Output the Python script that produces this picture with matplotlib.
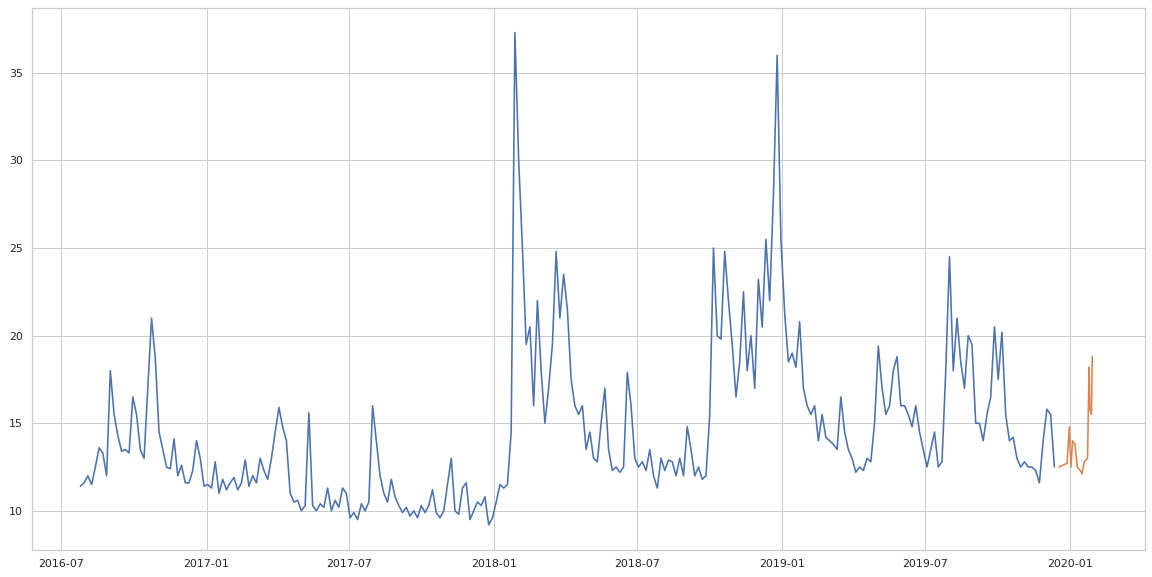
import matplotlib
matplotlib.use("Agg")
import matplotlib.pyplot as plt
import seaborn as sns
import pandas as pd
import numpy as np

sns.set_theme(style="whitegrid")

blue_start = "2016-07-25"
blue_values = [
    11.4, 11.6, 12.0, 11.5, 12.5, 13.6, 13.3, 12.0, 18.0, 15.5,
    14.3, 13.4, 13.5, 13.3, 16.5, 15.5, 13.5, 13.0, 17.0, 21.0,
    18.7, 14.5, 13.5, 12.5, 12.4, 14.1, 12.0, 12.6, 11.6, 11.6,
    12.3, 14.0, 13.0, 11.4, 11.5, 11.3, 12.8, 11.0, 11.8, 11.2,
    11.6, 11.9, 11.2, 11.6, 12.9, 11.4, 12.0, 11.6, 13.0, 12.3,
    11.8, 13.0, 14.5, 15.9, 14.8, 14.0, 11.0, 10.5, 10.6, 10.0,
    10.3, 15.6, 10.3, 10.0, 10.4, 10.2, 11.3, 10.0, 10.6, 10.2,
    11.3, 11.0, 9.6, 9.9, 9.5, 10.4, 10.0, 10.5, 16.0, 14.0,
    12.0, 11.0, 10.5, 11.8, 10.8, 10.3, 9.9, 10.2, 9.7, 10.0,
    9.6, 10.3, 9.9, 10.3, 11.2, 9.9, 9.6, 10.0, 11.5, 13.0,
    10.0, 9.8, 11.3, 11.6, 9.5, 10.0, 10.5, 10.3, 10.8, 9.2,
    9.6, 10.5, 11.5, 11.3, 11.5, 14.5, 37.3, 30.0, 25.0, 19.5,
    20.5, 16.0, 22.0, 18.0, 15.0, 17.0, 19.5, 24.8, 21.0, 23.5,
    21.5, 17.5, 16.0, 15.5, 16.0, 13.5, 14.5, 13.0, 12.8, 15.0,
    17.0, 13.5, 12.3, 12.5, 12.2, 12.5, 17.9, 16.0, 13.0, 12.5,
    12.8, 12.3, 13.5, 12.0, 11.3, 13.0, 12.3, 12.9, 12.8, 12.0,
    13.0, 12.0, 14.8, 13.5, 12.0, 12.5, 11.8, 12.0, 15.5, 25.0,
    20.0, 19.8, 24.8, 22.0, 19.5, 16.5, 18.5, 22.5, 18.0, 20.0,
    17.0, 23.2, 20.5, 25.5, 22.0, 28.0, 36.0, 25.5, 21.3, 18.5,
    19.0, 18.2, 20.8, 17.0, 16.0, 15.5, 16.0, 14.0, 15.5, 14.2,
    14.0, 13.8, 13.5, 16.5, 14.5, 13.5, 13.0, 12.2, 12.5, 12.3,
    13.0, 12.8, 15.0, 19.4, 17.0, 15.5, 16.0, 18.0, 18.8, 16.0,
    16.0, 15.5, 14.8, 16.0, 14.5, 13.5, 12.5, 13.5, 14.5, 12.5,
    12.8, 18.0, 24.5, 18.0, 21.0, 18.5, 17.0, 20.0, 19.5, 15.0,
    15.0, 14.0, 15.5, 16.5, 20.5, 17.5, 20.2, 15.5, 14.0, 14.2,
    13.0, 12.5, 12.8, 12.5, 12.5, 12.3, 11.6, 14.0, 15.8, 15.5, 12.5,
]
blue_dates = pd.date_range(blue_start, periods=len(blue_values), freq="114h")

orange_dates = pd.to_datetime([
    "2019-12-18", "2019-12-22", "2019-12-28", "2019-12-31", "2020-01-02",
    "2020-01-04", "2020-01-07", "2020-01-10", "2020-01-14", "2020-01-16",
    "2020-01-19", "2020-01-23", "2020-01-25", "2020-01-26", "2020-01-28",
    "2020-01-29",
])
orange_values = [12.5, 12.6, 12.7, 14.8, 12.5, 14.0, 13.8, 12.5, 12.3, 12.1,
                 12.8, 13.0, 18.2, 15.8, 15.5, 18.8]

fig = plt.figure(figsize=(16, 8.014), dpi=72)
ax = fig.add_axes([0.028, 0.047, 0.966, 0.939])
ax.plot(blue_dates, blue_values, color="#4c72b0", lw=1.6)
ax.plot(orange_dates, orange_values, color="#dd8452", lw=1.6)
ax.set_xlim(pd.Timestamp("2016-05-25"), pd.Timestamp("2020-04-05"))
ax.set_ylim(7.77, 38.7)
ax.set_yticks([10, 15, 20, 25, 30, 35])
ax.tick_params(labelsize=11)
fig.savefig("out.png", dpi=72)
